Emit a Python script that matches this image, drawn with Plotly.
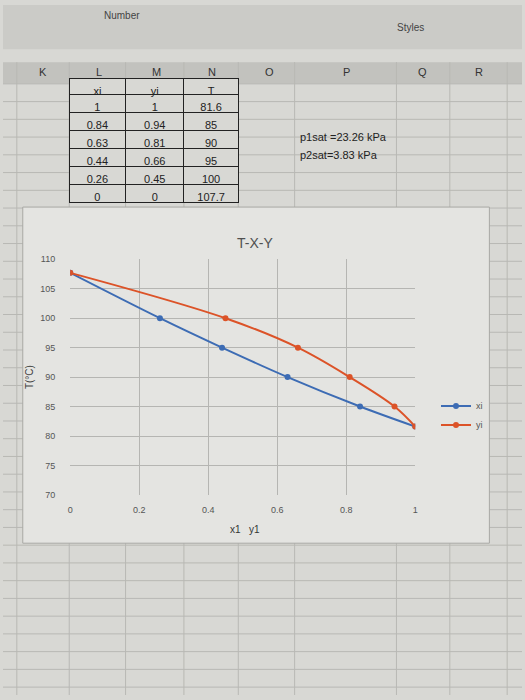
import plotly.graph_objects as go

# ---- data ----
xi = [1, 0.84, 0.63, 0.44, 0.26, 0]
yi = [1, 0.94, 0.81, 0.66, 0.45, 0]
T = [81.6, 85, 90, 95, 100, 107.7]
xi_labels = ["1", "0.84", "0.63", "0.44", "0.26", "0"]
yi_labels = ["1", "0.94", "0.81", "0.66", "0.45", "0"]
T_labels = ["81.6", "85", "90", "95", "100", "107.7"]
col_letters = ["K", "L", "M", "N", "O", "P", "Q", "R"]
col_letter_x = [40, 97, 155, 211, 270, 347, 424, 481]
y_ticks = [70, 75, 80, 85, 90, 95, 100, 105, 110]
x_ticks = [0, 0.2, 0.4, 0.6, 0.8, 1]

W, H = 525, 700
def px(x):
    return x / W
def py(y):
    return 1 - y / H

BLUE = "#3d6cb4"
ORANGE = "#dc5328"
SHEET_BG = "#d8d8d4"
CHART_BG = "#e4e4e1"

fig = go.Figure()

fig.add_trace(go.Scatter(
    x=xi, y=T, name="xi", mode="lines+markers",
    line=dict(color=BLUE, width=2, shape="spline", smoothing=1.0),
    marker=dict(color=BLUE, size=6),
))
fig.add_trace(go.Scatter(
    x=yi, y=T, name="yi", mode="lines+markers",
    line=dict(color=ORANGE, width=2, shape="spline", smoothing=1.0),
    marker=dict(color=ORANGE, size=6),
))

fig.add_trace(go.Table(
    domain=dict(x=[px(67), px(238)], y=[py(206), py(75)]),
    columnwidth=[57, 59, 55],
    header=dict(values=["xi", "yi", "T"], height=16,
                fill_color=SHEET_BG, line_color="#222222",
                font=dict(family="Liberation Sans, Arial", size=11, color="#222222"),
                align="center"),
    cells=dict(values=[xi_labels, yi_labels, T_labels], height=18,
               fill_color=SHEET_BG, line_color="#222222",
               font=dict(family="Liberation Sans, Arial", size=11, color="#222222"),
               align="center"),
))

shapes = []
# ribbon strip
shapes.append(dict(type="rect", xref="paper", yref="paper", x0=0, x1=1,
                   y0=py(45), y1=1, fillcolor="#cbcbc7", line_width=0, layer="below"))
# column header band
shapes.append(dict(type="rect", xref="paper", yref="paper", x0=0, x1=1,
                   y0=py(80), y1=py(58), fillcolor="#c2c2be", line_width=0, layer="below"))
# spreadsheet gridlines (background)
for r in range(80, 700, 18):
    shapes.append(dict(type="line", xref="paper", yref="paper", x0=0, x1=1,
                       y0=py(r), y1=py(r), line=dict(color="#b8b8b4", width=1), layer="below"))
for c in [14, 67, 124, 183, 238, 295, 398, 452, 510]:
    shapes.append(dict(type="line", xref="paper", yref="paper", x0=px(c), x1=px(c),
                       y0=0, y1=py(58), line=dict(color="#b8b8b4", width=1), layer="below"))
# chart area
shapes.append(dict(type="rect", xref="paper", yref="paper", x0=px(20), x1=px(492),
                   y0=py(546), y1=py(205), fillcolor=CHART_BG,
                   line=dict(color="#a8a8a4", width=1), layer="below"))

def ann(text, x, y, size, color, xanchor="center"):
    return dict(text=text, x=px(x), y=py(y), xref="paper", yref="paper",
                xanchor=xanchor, yanchor="middle", showarrow=False,
                font=dict(size=size, color=color))

annotations = [
    ann("T-X-Y", 255, 241, 14, "#505050"),
    ann("x1   y1", 245, 532, 10, "#333333"),
    ann("p1sat =23.26 kPa", 298, 134, 11, "#222222", "left"),
    ann("p2sat=3.83 kPa", 298, 152, 11, "#222222", "left"),
    ann("Number", 120, 11, 10, "#444444"),
    ann("Styles", 412, 23, 10, "#444444"),
]
for lab, cx in zip(col_letters, col_letter_x):
    annotations.append(ann(lab, cx, 68, 11, "#333333"))

fig.update_layout(
    width=W, height=H,
    margin=dict(l=0, r=0, t=0, b=0),
    paper_bgcolor=SHEET_BG,
    plot_bgcolor=CHART_BG,
    font=dict(family="Liberation Sans, Arial", color="#555555"),
    shapes=shapes,
    annotations=annotations,
    legend=dict(x=px(438), y=py(392), xanchor="left", yanchor="top",
                bgcolor="rgba(0,0,0,0)", font=dict(size=9, color="#555555"),
                itemwidth=30, tracegroupgap=2),
    xaxis=dict(domain=[px(68), px(417)], range=[0, 1], tickvals=x_ticks,
               ticktext=["0", "0.2", "0.4", "0.6", "0.8", "1"],
               showgrid=True, gridcolor="#b5b5b2", zeroline=False,
               showline=False, tickfont=dict(size=9, color="#555555"), ticks="",
               ticklabelstandoff=8),
    yaxis=dict(domain=[py(497), py(258)], range=[70, 110], tickvals=y_ticks,
               showgrid=True, gridcolor="#b5b5b2", zeroline=False,
               showline=False, tickfont=dict(size=9, color="#555555"), ticks="",
               ticklabelstandoff=14,
               title=dict(text="T(°C)", font=dict(size=10, color="#444444"), standoff=4)),
    showlegend=True,
)

fig.write_html("out.html", config={"displayModeBar": False},
               post_script="document.body.style.margin='0';document.body.style.padding='0';")
